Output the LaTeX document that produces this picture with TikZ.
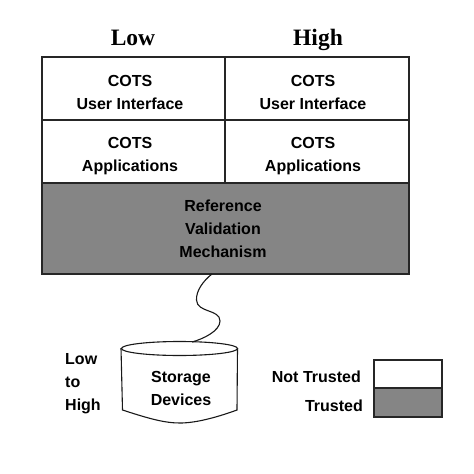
\documentclass[tikz,border=0pt]{standalone}
\usepackage{fontspec}
\setmainfont{Liberation Sans}
\newfontfamily\headfont{Liberation Serif}
\definecolor{trustgray}{RGB}{133,133,133}
\tikzset{
  x=1pt,y=-1pt,
  cell/.style={draw=black!85,line width=1.3pt,inner sep=0pt},
  head/.style={font=\headfont\fontsize{23.5}{24}\selectfont\bfseries,inner sep=0pt,anchor=base},
  lab/.style={font=\fontsize{16}{23}\selectfont\bfseries,inner sep=0pt,align=center},
  wire/.style={draw=black!90,line width=1.1pt}
}
\newcommand{\cellbox}[5]{\node[cell,#5,minimum width=#3 pt,minimum height=#4 pt] (#1) at (#2) {};}
\begin{document}
\begin{tikzpicture}
\useasboundingbox (0,0) rectangle (474,474);
\node[head] (low) at (133,45) {Low};
\node[head] (high) at (318,45) {High};
\cellbox{a}{133.5,88.5}{183}{63}{}
\cellbox{b}{317,88.5}{184}{63}{}
\cellbox{c}{133.5,151.5}{183}{63}{}
\cellbox{d}{317,151.5}{184}{63}{}
\cellbox{rvm}{225.5,228.5}{367}{91}{fill=trustgray}
\node[lab] (atext) at (130,92) {COTS\\User Interface};
\node[lab] (btext) at (313,92) {COTS\\User Interface};
\node[lab] (ctext) at (130,156.5) {COTS\\Applications};
\node[lab] (dtext) at (313,156.5) {COTS\\Applications};
\node[lab] (rtext) at (223,228.5) {Reference\\Validation\\Mechanism};
% storage
\coordinate (tanktop) at (192,342);
\coordinate (wiretop) at (212,274);
\path[draw=black!90,line width=1.1pt,fill=white] (121,348) -- (122.5,410) .. controls (150,419) and (165,423) .. (180,423) .. controls (195,423) and (215,418) .. (237,410) -- (237.5,348);
\draw[wire,fill=white] (179.5,348.5) ellipse [x radius=58,y radius=7];
\node[lab] (store) at (181,388) {Storage\\Devices};
\draw[wire] (wiretop) .. controls (203,281) and (196,291) .. (196.5,300) .. controls (197,313) and (220,309) .. (220,321) .. controls (220,331) and (203,339) .. (tanktop);
\node[lab,align=left,anchor=west] (lth) at (65,383.5) {Low\\to\\High};
% legend
\cellbox{nt}{408,374}{68}{28}{}
\cellbox{tr}{408,402.5}{68}{29}{fill=trustgray}
\node[lab,anchor=east] (ntl) at (361,377) {Not Trusted};
\node[lab,anchor=east] (trl) at (363,405.5) {Trusted};
\end{tikzpicture}
\end{document}
